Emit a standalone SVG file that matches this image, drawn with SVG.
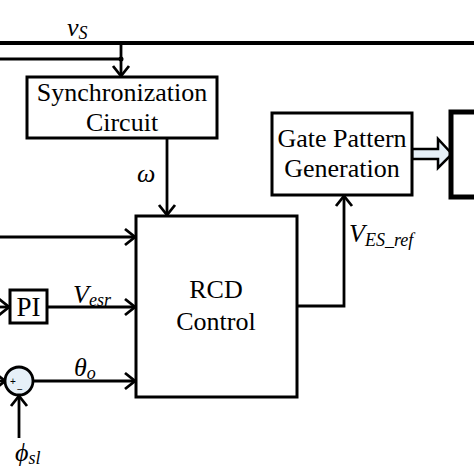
<svg xmlns="http://www.w3.org/2000/svg" width="474" height="474" viewBox="0 0 474 474">
<style>
.box{fill:#fff;stroke:#000;stroke-width:3}
.ln{fill:none;stroke:#000;stroke-width:2.8}
.t{font-family:"Liberation Serif","Times New Roman",serif;font-size:26px;fill:#000;text-anchor:middle}
.v{font-family:"Liberation Serif","Times New Roman",serif;font-style:italic;font-size:26px;fill:#000}
.s{font-size:18px}
</style>
<defs>
<marker id="ah" viewBox="-12 -10 14 20" markerWidth="14" markerHeight="20" refX="0" refY="0" orient="auto" markerUnits="userSpaceOnUse">
<path d="M-10,-8 L0,0 L-10,8" fill="none" stroke="#000" stroke-width="2.8"/>
</marker>
</defs>
<rect width="474" height="474" fill="#fff"/>
<g id="connectors">
<line x1="0" y1="43" x2="474" y2="43" stroke="#000" stroke-width="4"/>
<line class="ln" x1="0" y1="59" x2="121" y2="59"/>
<circle cx="121" cy="59" r="2.5" fill="#000"/>
<line class="ln" x1="121" y1="43" x2="121" y2="76" marker-end="url(#ah)"/>
<line class="ln" x1="167" y1="138" x2="167" y2="215" marker-end="url(#ah)"/>
<line class="ln" x1="0" y1="237" x2="135" y2="237" marker-end="url(#ah)"/>
<line class="ln" x1="0" y1="307" x2="9" y2="307" marker-end="url(#ah)"/>
<line class="ln" x1="47" y1="307" x2="135" y2="307" marker-end="url(#ah)"/>
<line class="ln" x1="0" y1="381" x2="5" y2="381" marker-end="url(#ah)"/>
<line class="ln" x1="33" y1="381" x2="135" y2="381" marker-end="url(#ah)"/>
<line class="ln" x1="19" y1="438" x2="19" y2="396" marker-end="url(#ah)"/>
<polyline class="ln" points="297,306 344,306 344,196" marker-end="url(#ah)"/>
<path d="M412,149 L438,149 L438,139 L452,154 L438,168 L438,159 L412,159 Z" fill="#e6f0f8" stroke="#000" stroke-width="2.5" stroke-linejoin="miter"/>
</g>
<g id="vs-label"><text class="v" x="67" y="36">v<tspan class="s" dy="3">S</tspan></text></g>
<g id="sync">
<rect class="box" x="27" y="77" width="190" height="61"/>
<text class="t" x="122" y="101">Synchronization</text>
<text class="t" x="122" y="131">Circuit</text>
</g>
<g id="omega-label"><text class="v" x="137" y="182">ω</text></g>
<g id="gate">
<rect class="box" x="272" y="113" width="140" height="82"/>
<text class="t" x="342" y="147">Gate Pattern</text>
<text class="t" x="342" y="177">Generation</text>
</g>
<g id="right-box">
<rect x="451" y="112" width="40" height="85" fill="#fff" stroke="#000" stroke-width="5"/>
</g>
<g id="rcd">
<rect class="box" x="136" y="216" width="161" height="181"/>
<text class="t" x="216" y="298">RCD</text>
<text class="t" x="216" y="330">Control</text>
</g>
<g id="ves-label"><text class="v" x="349" y="242">V<tspan class="s" dy="4">ES_ref</tspan></text></g>
<g id="pi">
<rect class="box" x="10" y="290" width="37" height="33"/>
<text class="t" x="28.5" y="316" style="font-size:27px">PI</text>
</g>
<g id="vesr-label"><text class="v" x="73" y="303">V<tspan class="s" dy="3">esr</tspan></text></g>
<g id="sum">
<circle cx="19" cy="381" r="14" fill="#e6f0f8" stroke="#000" stroke-width="2.8"/>
<text x="10" y="385" style="font-family:'Liberation Sans',sans-serif;font-size:10px">+</text>
<text x="17" y="393" style="font-family:'Liberation Sans',sans-serif;font-size:10px">−</text>
</g>
<g id="theta-label"><text class="v" x="74" y="376">θ<tspan class="s" dy="3">o</tspan></text></g>
<g id="phi-label"><text class="v" x="15" y="461">ϕ<tspan class="s" dy="3">sl</tspan></text></g>
</svg>
